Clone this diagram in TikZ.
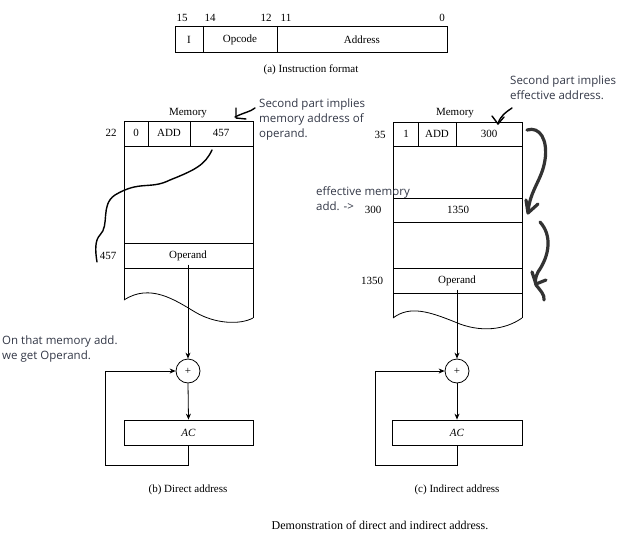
\documentclass[tikz,border=0pt]{standalone}
\usepackage{fontspec}
\setmainfont{Liberation Serif}
\newfontfamily\annot{Open Sans}
\usetikzlibrary{arrows.meta}
\definecolor{notec}{RGB}{50,55,70}
\begin{document}
\begin{tikzpicture}[x=1pt,y=-1pt,
  bx/.style={draw,line width=0.8pt},
  lbl/.style={font=\fontsize{11}{12}\selectfont},
  note/.style={font=\annot\fontsize{11.5}{15}\selectfont,text=notec,align=left,anchor=north west,inner sep=0},
  hand/.style={line width=1.4pt,line cap=round,line join=round},
  thick hand/.style={line width=3.2pt,line cap=round,line join=round,black!80},
  arr/.style={-{Stealth[length=6pt,width=5pt]},line width=0.8pt}]
\useasboundingbox (0,0) rectangle (640,535);
% instruction format
\draw[bx] (175,26) rectangle (447,52);
\draw[bx] (203,26)--(203,52) (277,26)--(277,52);
\node[lbl] (i) at (189,40) {I};
\node[lbl] (op) at (240,40) {Opcode};
\node[lbl] (ad) at (362,40) {Address};
\node[lbl] at (182,18) {15};
\node[lbl] at (210,18) {14};
\node[lbl] at (266,18) {12};
\node[lbl] at (286,18) {11};
\node[lbl] at (442,18) {0};
\node[lbl] (capa) at (311,70) {(a) Instruction format};
% ---------- left memory
\node[lbl] at (188,113) {Memory};
\draw[bx] (124,121) rectangle (253,146);
\draw[bx] (148,121)--(148,146) (190,121)--(190,146);
\node[lbl] at (136,133) {0};
\node[lbl] at (169,133) {ADD};
\node[lbl] at (221,133) {457};
\node[lbl] at (111,133) {22};
\draw[bx] (124,146)--(124,300) (253,146)--(253,318);
\draw[bx] (124,300) .. controls (150,283) and (175,300) .. (195,312) .. controls (215,324) and (240,325) .. (253,318);
\draw[bx] (124,243) rectangle (253,268);
\node[lbl] (opl) at (188,256) {Operand};
\node[lbl] at (108,256) {457};
\node[draw,circle,line width=0.8pt,minimum size=24pt,inner sep=0,lbl] (pl) at (188,371) {+};
\node[bx,minimum width=129pt,minimum height=25pt,inner sep=0,font=\fontsize{11}{12}\selectfont\itshape] (acl) at (188.5,432.5) {AC};
\draw[arr] (opl.south) -- (pl.north);
\draw[arr] (pl.south) -- (acl.north);
\draw[arr] (acl.south) -- ++(0,20) -| (105,371) -- (pl.west);
\node[lbl] at (188,490) {(b) Direct address};
% hand curve left
\draw[hand] (212,150) .. controls (205,165) and (195,170) .. (170,180) .. controls (150,190) and (140,180) .. (115,195)
  .. controls (100,205) and (110,225) .. (100,235) .. controls (95,240) and (95,250) .. (97,262);
\draw[hand] (235,117) .. controls (245,112) and (250,112) .. (255,108);
\draw[hand] (236,108) -- (236,118) -- (246,119);
\node[note] at (259,99) {Second part implies\\memory address of\\operand.};
\node[note] at (2,336) {On that memory add.\\we get Operand.};
% ---------- right memory
\node[lbl] at (455,113) {Memory};
\draw[bx] (393,122) rectangle (522,146);
\draw[bx] (418,122)--(418,146) (456,122)--(456,146);
\node[lbl] at (406,134) {1};
\node[lbl] at (437,134) {ADD};
\node[lbl] at (489,134) {300};
\node[lbl] at (380,135) {35};
\draw[bx] (393,146)--(393,318) (522,146)--(522,318);
\draw[bx] (393,318) .. controls (410,305) and (430,312) .. (455,322) .. controls (480,333) and (505,330) .. (522,318);
\draw[bx] (393,198) rectangle (522,222);
\node[lbl] at (458,210) {1350};
\node[lbl] at (373,210) {300};
\draw[bx] (393,268) rectangle (522,293);
\node[lbl] (opr) at (457,281) {Operand};
\node[lbl] at (372,281) {1350};
\node[draw,circle,line width=0.8pt,minimum size=24pt,inner sep=0,lbl] (pr) at (457,371) {+};
\node[bx,minimum width=130pt,minimum height=25pt,inner sep=0,font=\fontsize{11}{12}\selectfont\itshape] (acr) at (457,432.5) {AC};
\draw[arr] (opr.south) -- (pr.north);
\draw[arr] (pr.south) -- (acr.north);
\draw[arr] (acr.south) -- ++(0,20) -| (375,371) -- (pr.west);
\node[lbl] at (457,490) {(c) Indirect address};
% hand strokes right
\draw[hand] (498,124) .. controls (500,116) and (506,112) .. (512,108);
\draw[hand] (492,116) -- (498,124) -- (504,117);
\draw[thick hand] (527,130) .. controls (540,126) and (548,140) .. (545,160) .. controls (542,180) and (530,190) .. (528,212);
\draw[thick hand] (526,200) -- (528,213) -- (538,204);
\draw[thick hand] (540,222) .. controls (552,235) and (550,255) .. (538,272) .. controls (535,278) and (535,282) .. (536,285);
\draw[thick hand] (532,272) -- (536,284) -- (546,280);
\draw[thick hand] (536,285) .. controls (540,290) and (545,295) .. (544,300);
\node[note] at (510,76) {Second part implies\\effective address.};
\node[note] at (316,187) {effective memory\\add. ->};
\node[lbl,font=\fontsize{12}{13}\selectfont] at (380,525) {Demonstration of direct and indirect address.};
\end{tikzpicture}
\end{document}
